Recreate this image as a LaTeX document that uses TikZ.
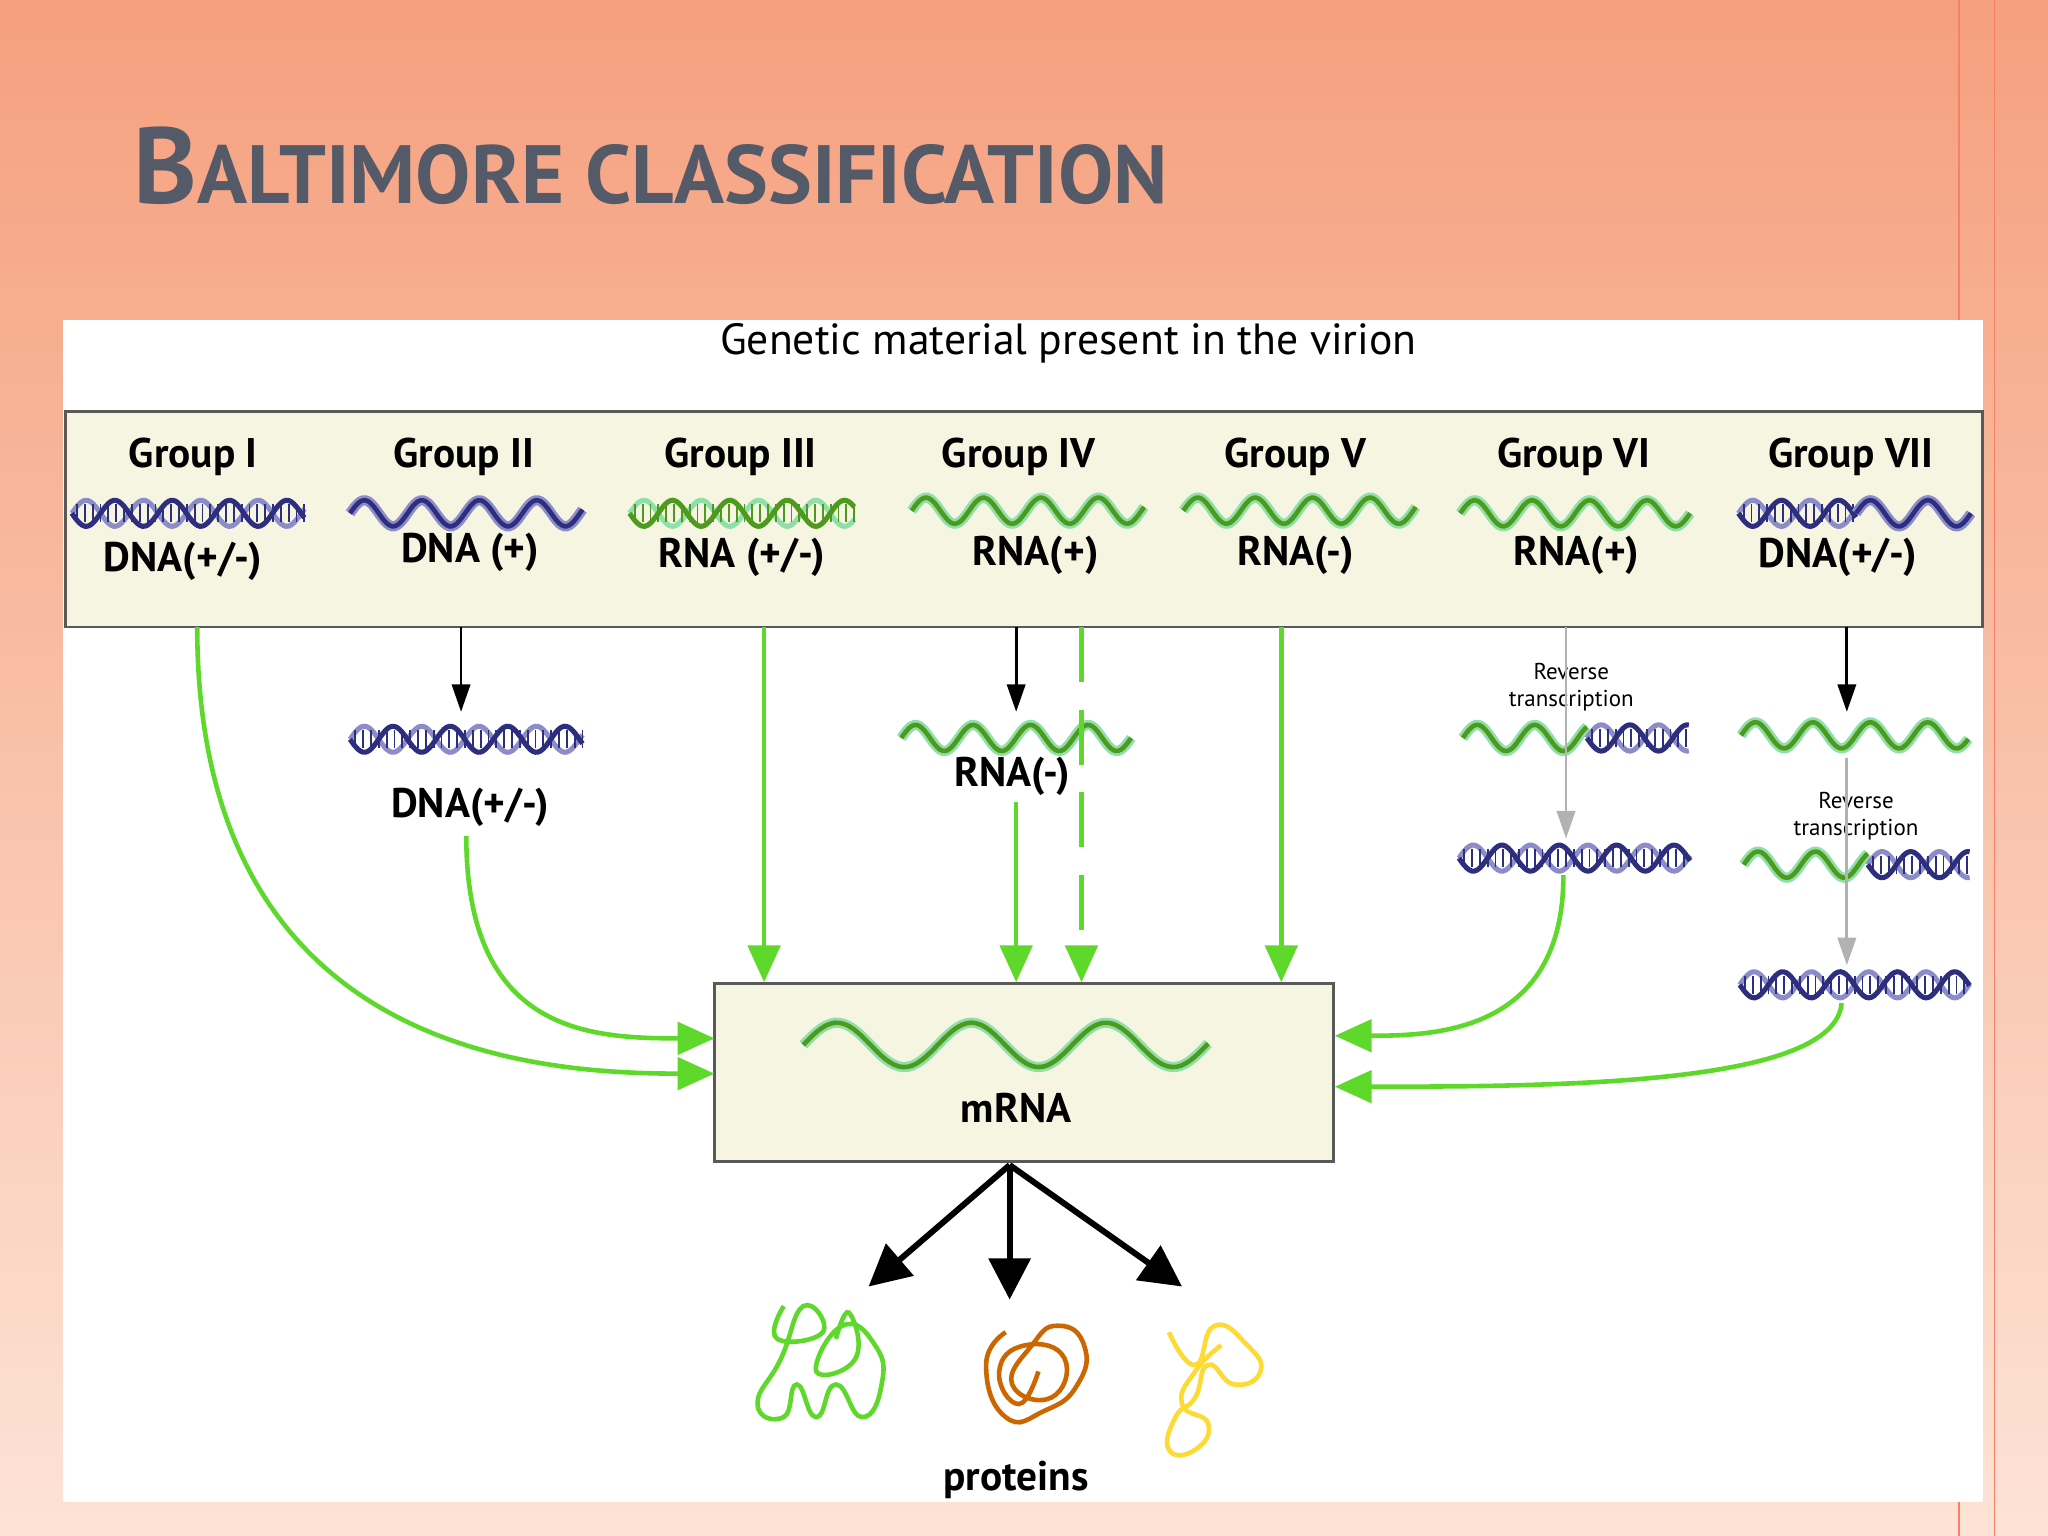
\documentclass[tikz,border=0pt]{standalone}
\usepackage{fontspec}
\setmainfont{PT Sans}
\usetikzlibrary{arrows.meta}
\definecolor{bgtop}{HTML}{F5A07E}
\definecolor{bgbot}{HTML}{FDE3D6}
\definecolor{boxfill}{HTML}{F6F5E1}
\definecolor{arrgreen}{HTML}{5FD82C}
\definecolor{dnadark}{HTML}{2E2E7E}
\definecolor{dnalight}{HTML}{8C8CC8}
\definecolor{rnadark}{HTML}{4E9A1E}
\definecolor{rnalight}{HTML}{8EE0A8}
\definecolor{titlegray}{HTML}{555A68}
% double strand: x, y, width, dark, light
\newcommand\dsstrand[5]{%
  \draw[#5, line width=1.1pt] plot[domain=0:#3, samples=90] ({#1+\x},{#2+10*sin(\x*8.2+180)});
  \draw[#4, line width=1.1pt] plot[domain=0:#3, samples=90] ({#1+\x},{#2+10*sin(\x*8.2)});
  \foreach \r in {4,10,...,#3} {\draw[#4, line width=0.4pt] ({#1+\r},{#2-7}) -- ({#1+\r},{#2+7});}
}
% single strand: x, y, width, dark, light, amplitude, period
\newcommand\ssstrand[7]{%
  \draw[#5, line width=2.2pt] plot[domain=0:#3, samples=90] ({#1+\x},{#2-#6*sin(\x/#7*360)});
  \draw[#4, line width=1pt] plot[domain=0:#3, samples=90] ({#1+\x},{#2-#6*sin(\x/#7*360)});
}
\tikzset{
  grp/.style={font=\bfseries\fontsize{9}{10}\selectfont},
  lbl/.style={font=\bfseries\fontsize{9}{10}\selectfont},
  small/.style={font=\fontsize{5}{6}\selectfont, align=center},
  feed/.style={arrgreen, line width=1pt, -{Triangle[length=8pt,width=7pt]}},
  convert/.style={black, line width=0.6pt, -{Triangle[length=6pt,width=4pt]}},
  rt/.style={black!30, line width=0.6pt, -{Triangle[length=6pt,width=4pt]}},
  translate/.style={black, line width=1.3pt, -{Triangle[length=9pt,width=9pt]}},
  panel/.style={draw=black!65, fill=boxfill, line width=0.6pt}
}
\begin{document}
\begin{tikzpicture}[x=0.01cm, y=-0.01cm]
\useasboundingbox (0,0) rectangle (1568,1176);
% background
\shade[top color=bgtop, bottom color=bgbot] (0,0) rectangle (1568,1176);
\draw[bgtop!80!red, line width=0.4pt] (1500,0) -- (1500,1176) (1527,0) -- (1527,1176);
\node[anchor=west, text=titlegray, font=\bfseries] (title) at (90,127)
  {\fontsize{23.5}{25}\selectfont B\fontsize{18}{20}\selectfont ALTIMORE CLASSIFICATION};
\fill[white] (48,245) rectangle (1518,1150);
\node[font=\fontsize{9.5}{11}\selectfont] (head) at (818,263) {Genetic material present in the virion};
% top box
\draw[panel] (50,315) rectangle (1518,480);
\foreach \n/\xc/\t in {1/148/Group I, 2/355/Group II, 3/567/Group III, 4/780/Group IV,
  5/992/Group V, 6/1205/Group VI, 7/1417/Group VII}
  \node[grp] (g\n) at (\xc,350) {\t};
\dsstrand{55}{393}{178}{dnadark}{dnalight}
\ssstrand{268}{393}{178}{dnadark}{dnalight}{10}{44}
\dsstrand{482}{393}{172}{rnadark}{rnalight}
\ssstrand{698}{391}{178}{rnadark}{rnalight}{10}{44}
\ssstrand{906}{391}{178}{rnadark}{rnalight}{10}{44}
\ssstrand{1118}{393}{176}{rnadark}{rnalight}{10}{44}
\dsstrand{1331}{393}{90}{dnadark}{dnalight}
\ssstrand{1421}{393}{88}{dnadark}{dnalight}{10}{44}
\node[lbl] (l1) at (140,430) {DNA(+/-)};
\node[lbl] (l2) at (360,423) {DNA (+)};
\node[lbl] (l3) at (568,427) {RNA (+/-)};
\node[lbl] (l4) at (793,425) {RNA(+)};
\node[lbl] (l5) at (992,425) {RNA(-)};
\node[lbl] (l6) at (1207,425) {RNA(+)};
\node[lbl] (l7) at (1407,427) {DNA(+/-)};
% intermediates
\dsstrand{268}{566}{178}{dnadark}{dnalight}
\node[lbl] (i2) at (360,618) {DNA(+/-)};
\ssstrand{690}{565}{176}{rnadark}{rnalight}{10}{44}
\node[lbl] (i4) at (775,594) {RNA(-)};
\node[small] (rt6) at (1203,526) {Reverse\\transcription};
\ssstrand{1120}{565}{95}{rnadark}{rnalight}{10}{44}
\dsstrand{1215}{565}{78}{dnadark}{dnalight}
\dsstrand{1117}{657}{177}{dnadark}{dnalight}
\ssstrand{1333}{563}{174}{rnadark}{rnalight}{10}{44}
\node[small] (rt7) at (1421,625) {Reverse\\transcription};
\ssstrand{1335}{662}{95}{rnadark}{rnalight}{10}{44}
\dsstrand{1430}{662}{78}{dnadark}{dnalight}
\dsstrand{1332}{754}{176}{dnadark}{dnalight}
% mRNA box
\draw[panel] (547,753) rectangle (1021,889);
\ssstrand{615}{800}{310}{rnadark}{rnalight}{17}{103}
\node[lbl] (mrna) at (778,848) {mRNA};
% connectors
\coordinate (a1) at (151,480); \coordinate (b1) at (547,822);
\draw[feed] (a1) .. controls (151,800) and (400,822) .. (b1);
\coordinate (a2) at (353,480); \coordinate (c2) at (353,545);
\draw[convert] (a2) -- (c2);
\coordinate (d2) at (357,640); \coordinate (b2) at (547,795);
\draw[feed] (d2) .. controls (357,790) and (450,795) .. (b2);
\coordinate (a3) at (585,480); \coordinate (b3) at (585,752);
\draw[feed] (a3) -- (b3);
\coordinate (a4) at (778,480); \coordinate (c4) at (778,545);
\draw[convert] (a4) -- (c4);
\coordinate (d4) at (778,614); \coordinate (b4) at (778,752);
\draw[feed] (d4) -- (b4);
\coordinate (e4) at (828,480); \coordinate (f4) at (828,752);
\draw[feed, dash pattern=on 12pt off 6pt] (e4) -- (f4);
\coordinate (a5) at (981,480); \coordinate (b5) at (981,752);
\draw[feed] (a5) -- (b5);
\coordinate (a6) at (1199,480); \coordinate (c6) at (1199,642);
\draw[rt] (a6) -- (c6);
\coordinate (d6) at (1197,670); \coordinate (b6) at (1022,793);
\draw[feed] (d6) .. controls (1197,790) and (1100,793) .. (b6);
\coordinate (a7) at (1414,480); \coordinate (c7) at (1414,545);
\draw[convert] (a7) -- (c7);
\coordinate (e7) at (1414,580); \coordinate (f7) at (1414,739);
\draw[rt] (e7) -- (f7);
\coordinate (d7) at (1410,768); \coordinate (b7) at (1022,832);
\draw[feed] (d7) .. controls (1405,830) and (1200,832) .. (b7);
% proteins
\coordinate (m0) at (773,892);
\coordinate (p1) at (665,985); \coordinate (p2) at (773,995); \coordinate (p3) at (905,985);
\foreach \p in {p1,p2,p3} \draw[translate] (m0) -- (\p);
\draw[arrgreen, line width=1pt] plot[smooth, tension=0.9] coordinates {(600,1000) (595,1025) (630,1020) (615,1000) (598,1040) (580,1075) (600,1085) (610,1060) (625,1085) (640,1060) (660,1085) (675,1060) (670,1030) (645,1015) (625,1050) (655,1040) (650,1005) (640,1025)};
\draw[orange!80!black, line width=1pt] plot[smooth, tension=0.9] coordinates {(770,1020) (755,1045) (770,1085) (800,1080) (825,1060) (830,1030) (810,1015) (790,1030) (775,1060) (805,1070) (815,1040) (785,1030) (765,1050) (780,1075) (795,1050)};
\draw[yellow!70!orange!80, line width=1pt] plot[smooth, tension=0.9] coordinates {(895,1020) (915,1045) (930,1015) (955,1030) (965,1050) (945,1060) (925,1045) (915,1070) (900,1085) (895,1110) (915,1110) (925,1090) (905,1075) (915,1050) (935,1030)};
\node[lbl] (prot) at (778,1133) {proteins};
\end{tikzpicture}
\end{document}
